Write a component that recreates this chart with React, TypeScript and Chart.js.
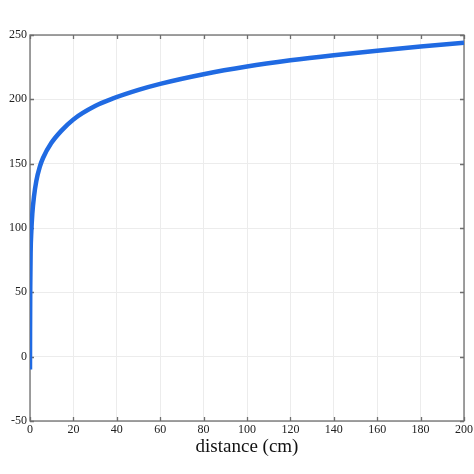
import React, { useEffect, useRef } from "react";
import { Chart, registerables } from "chart.js";

Chart.register(...registerables);

const distanceCm = [0, 0.03, 0.12, 0.3, 0.6, 1.06, 1.84, 2.9, 4.5, 6, 9.8, 14.4, 20, 30, 38, 50, 60, 80, 100, 120, 140, 160, 180, 200];
const curveValues = [-10, 20, 55, 82, 97, 111, 124.5, 136.5, 147.5, 154.4, 166, 175.5, 184.4, 194.8, 200.5, 207.3, 212, 219.5, 225.5, 230.3, 234.3, 237.8, 241, 244];
const xTickValues = [0, 20, 40, 60, 80, 100, 120, 140, 160, 180, 200];
const yTickValues = [-50, 0, 50, 100, 150, 200, 250];
const xAxisTitle = "distance (cm)";

const FONT = "'Liberation Serif', 'DejaVu Serif', serif";

const framePlugin = {
  id: "frameTicks",
  beforeDatasetsDraw(chart: any) {
    const { ctx, chartArea: a, scales } = chart;
    const tl = 4;
    ctx.save();
    ctx.strokeStyle = "#6e6e6e";
    ctx.lineWidth = 1.3;
    ctx.beginPath();
    for (const v of xTickValues) {
      const px = Math.round(scales.x.getPixelForValue(v)) + 0.5;
      ctx.moveTo(px, a.bottom);
      ctx.lineTo(px, a.bottom - tl);
      ctx.moveTo(px, a.top);
      ctx.lineTo(px, a.top + tl);
    }
    for (const v of yTickValues) {
      const py = Math.round(scales.y.getPixelForValue(v)) + 0.5;
      ctx.moveTo(a.left, py);
      ctx.lineTo(a.left + tl, py);
      ctx.moveTo(a.right, py);
      ctx.lineTo(a.right - tl, py);
    }
    ctx.stroke();
    ctx.strokeRect(a.left, a.top, a.right - a.left, a.bottom - a.top);
    ctx.restore();
  },
};

export default function App() {
  const ref = useRef<HTMLCanvasElement | null>(null);

  useEffect(() => {
    if (!ref.current) return;
    const chart = new Chart(ref.current, {
      type: "line",
      data: {
        datasets: [
          {
            data: distanceCm.map((x, i) => ({ x, y: curveValues[i] })),
            borderColor: "rgb(32,106,226)",
            borderWidth: 4.5,
            pointRadius: 0,
            cubicInterpolationMode: "monotone",
            fill: false,
          },
        ],
      },
      options: {
        animation: false,
        responsive: false,
        devicePixelRatio: 1,
        layout: { padding: { left: 0, top: 35, right: 20, bottom: 0 } },
        plugins: { legend: { display: false }, tooltip: { enabled: false } },
        scales: {
          x: {
            type: "linear",
            min: 0,
            max: 200,
            afterBuildTicks: (s: any) => {
              s.ticks = xTickValues.map((v) => ({ value: v }));
            },
            afterFit: (s: any) => {
              s.height = 53;
            },
            grid: { color: "#ececec", lineWidth: 1, drawTicks: false },
            border: { display: false },
            ticks: {
              padding: 2,
              color: "#222",
              maxRotation: 0,
              autoSkip: false,
              font: { family: FONT, size: 12 },
            },
            title: {
              display: true,
              text: xAxisTitle,
              color: "#111",
              font: { family: FONT, size: 19 },
              padding: { top: 0, bottom: 16 },
            },
          },
          y: {
            type: "linear",
            min: -50,
            max: 250,
            afterBuildTicks: (s: any) => {
              s.ticks = yTickValues.map((v) => ({ value: v }));
            },
            afterFit: (s: any) => {
              s.width = 30;
            },
            grid: { color: "#ececec", lineWidth: 1, drawTicks: false },
            border: { display: false },
            ticks: {
              padding: 3,
              color: "#222",
              autoSkip: false,
              font: { family: FONT, size: 12 },
            },
          },
        },
      },
      plugins: [framePlugin],
    });
    return () => chart.destroy();
  }, []);

  return (
    <div style={{ position: "fixed", left: 0, top: 0, width: 474, height: 474, overflow: "hidden", background: "#fff" }}>
      <canvas ref={ref} width={484} height={474} style={{ display: "block", width: 484, height: 474 }} />
    </div>
  );
}
